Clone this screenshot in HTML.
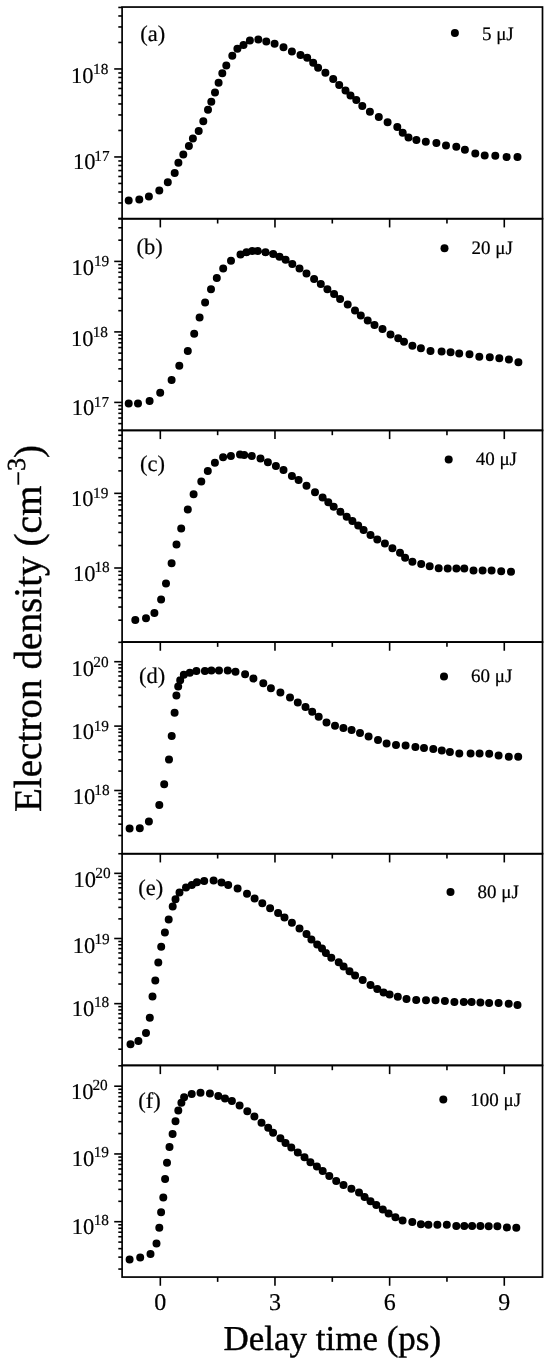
<!DOCTYPE html>
<html><head><meta charset="utf-8"><style>
html,body{margin:0;padding:0;background:#fff;overflow:hidden;}
svg{display:block;}
text{text-rendering:geometricPrecision;font-family:"Liberation Serif","Times New Roman",serif;fill:#000;stroke:#000;stroke-width:0.2px;}
.ax,.axy{stroke-width:0.4px;}
.t{stroke:#000;stroke-width:1.6;}
.fr{fill:none;stroke:#000;stroke-width:1.7;}
.yl{font-size:22.5px;}
.sup{font-size:15.3px;}
.xl{font-size:24px;}
.pl{font-size:22.5px;}
.lg{font-size:19px;}
.ax{font-size:35px;}
.axy{font-size:39.2px;}
.axs{font-size:26px;}
path,circle{fill:#000;}
</style></head><body>
<svg width="550" height="1361" viewBox="0 0 550 1361">
<line x1="118.30" y1="218.46" x2="122.10" y2="218.46" class="t"/>
<line x1="118.30" y1="202.96" x2="122.10" y2="202.96" class="t"/>
<line x1="118.30" y1="191.97" x2="122.10" y2="191.97" class="t"/>
<line x1="118.30" y1="183.44" x2="122.10" y2="183.44" class="t"/>
<line x1="118.30" y1="176.47" x2="122.10" y2="176.47" class="t"/>
<line x1="118.30" y1="170.58" x2="122.10" y2="170.58" class="t"/>
<line x1="118.30" y1="165.48" x2="122.10" y2="165.48" class="t"/>
<line x1="118.30" y1="160.98" x2="122.10" y2="160.98" class="t"/>
<line x1="114.20" y1="156.95" x2="122.10" y2="156.95" class="t"/>
<text x="84.25" y="169.10" class="yl" text-anchor="middle">10</text>
<text x="101.90" y="160.50" class="sup" text-anchor="middle">17</text>
<line x1="118.30" y1="130.46" x2="122.10" y2="130.46" class="t"/>
<line x1="118.30" y1="114.96" x2="122.10" y2="114.96" class="t"/>
<line x1="118.30" y1="103.97" x2="122.10" y2="103.97" class="t"/>
<line x1="118.30" y1="95.44" x2="122.10" y2="95.44" class="t"/>
<line x1="118.30" y1="88.47" x2="122.10" y2="88.47" class="t"/>
<line x1="118.30" y1="82.58" x2="122.10" y2="82.58" class="t"/>
<line x1="118.30" y1="77.48" x2="122.10" y2="77.48" class="t"/>
<line x1="118.30" y1="72.98" x2="122.10" y2="72.98" class="t"/>
<line x1="114.20" y1="68.95" x2="122.10" y2="68.95" class="t"/>
<text x="82.25" y="83.30" class="yl" text-anchor="middle">10</text>
<text x="100.65" y="74.43" class="sup" text-anchor="middle">18</text>
<line x1="118.30" y1="42.46" x2="122.10" y2="42.46" class="t"/>
<line x1="118.30" y1="26.96" x2="122.10" y2="26.96" class="t"/>
<line x1="118.30" y1="15.97" x2="122.10" y2="15.97" class="t"/>
<line x1="118.30" y1="7.44" x2="122.10" y2="7.44" class="t"/>
<line x1="160.32" y1="218.72" x2="160.32" y2="227.42" class="t"/>
<line x1="274.97" y1="218.72" x2="274.97" y2="227.42" class="t"/>
<line x1="389.63" y1="218.72" x2="389.63" y2="227.42" class="t"/>
<line x1="504.28" y1="218.72" x2="504.28" y2="227.42" class="t"/>
<line x1="217.65" y1="218.72" x2="217.65" y2="223.52" class="t"/>
<line x1="332.30" y1="218.72" x2="332.30" y2="223.52" class="t"/>
<line x1="446.95" y1="218.72" x2="446.95" y2="223.52" class="t"/>
<path d="M124.70 200.50a4.0 4.0 0 1 0 8.0 0a4.0 4.0 0 1 0 -8.0 0M135.30 199.50a4.0 4.0 0 1 0 8.0 0a4.0 4.0 0 1 0 -8.0 0M144.90 196.40a4.0 4.0 0 1 0 8.0 0a4.0 4.0 0 1 0 -8.0 0M155.30 190.40a4.0 4.0 0 1 0 8.0 0a4.0 4.0 0 1 0 -8.0 0M163.80 182.20a4.0 4.0 0 1 0 8.0 0a4.0 4.0 0 1 0 -8.0 0M170.70 173.10a4.0 4.0 0 1 0 8.0 0a4.0 4.0 0 1 0 -8.0 0M174.40 162.70a4.0 4.0 0 1 0 8.0 0a4.0 4.0 0 1 0 -8.0 0M179.30 154.50a4.0 4.0 0 1 0 8.0 0a4.0 4.0 0 1 0 -8.0 0M184.90 146.00a4.0 4.0 0 1 0 8.0 0a4.0 4.0 0 1 0 -8.0 0M188.90 138.50a4.0 4.0 0 1 0 8.0 0a4.0 4.0 0 1 0 -8.0 0M194.70 130.90a4.0 4.0 0 1 0 8.0 0a4.0 4.0 0 1 0 -8.0 0M199.30 121.20a4.0 4.0 0 1 0 8.0 0a4.0 4.0 0 1 0 -8.0 0M204.00 109.80a4.0 4.0 0 1 0 8.0 0a4.0 4.0 0 1 0 -8.0 0M207.30 101.80a4.0 4.0 0 1 0 8.0 0a4.0 4.0 0 1 0 -8.0 0M211.00 92.40a4.0 4.0 0 1 0 8.0 0a4.0 4.0 0 1 0 -8.0 0M214.60 82.70a4.0 4.0 0 1 0 8.0 0a4.0 4.0 0 1 0 -8.0 0M218.30 73.30a4.0 4.0 0 1 0 8.0 0a4.0 4.0 0 1 0 -8.0 0M222.30 65.50a4.0 4.0 0 1 0 8.0 0a4.0 4.0 0 1 0 -8.0 0M228.30 55.80a4.0 4.0 0 1 0 8.0 0a4.0 4.0 0 1 0 -8.0 0M233.40 48.70a4.0 4.0 0 1 0 8.0 0a4.0 4.0 0 1 0 -8.0 0M239.50 45.10a4.0 4.0 0 1 0 8.0 0a4.0 4.0 0 1 0 -8.0 0M245.90 40.50a4.0 4.0 0 1 0 8.0 0a4.0 4.0 0 1 0 -8.0 0M254.30 39.60a4.0 4.0 0 1 0 8.0 0a4.0 4.0 0 1 0 -8.0 0M262.30 41.50a4.0 4.0 0 1 0 8.0 0a4.0 4.0 0 1 0 -8.0 0M270.60 43.80a4.0 4.0 0 1 0 8.0 0a4.0 4.0 0 1 0 -8.0 0M279.50 47.30a4.0 4.0 0 1 0 8.0 0a4.0 4.0 0 1 0 -8.0 0M287.90 51.60a4.0 4.0 0 1 0 8.0 0a4.0 4.0 0 1 0 -8.0 0M296.50 55.00a4.0 4.0 0 1 0 8.0 0a4.0 4.0 0 1 0 -8.0 0M303.20 57.70a4.0 4.0 0 1 0 8.0 0a4.0 4.0 0 1 0 -8.0 0M309.20 62.80a4.0 4.0 0 1 0 8.0 0a4.0 4.0 0 1 0 -8.0 0M314.10 67.70a4.0 4.0 0 1 0 8.0 0a4.0 4.0 0 1 0 -8.0 0M321.40 72.80a4.0 4.0 0 1 0 8.0 0a4.0 4.0 0 1 0 -8.0 0M329.20 79.00a4.0 4.0 0 1 0 8.0 0a4.0 4.0 0 1 0 -8.0 0M335.20 85.00a4.0 4.0 0 1 0 8.0 0a4.0 4.0 0 1 0 -8.0 0M341.50 90.50a4.0 4.0 0 1 0 8.0 0a4.0 4.0 0 1 0 -8.0 0M346.50 95.50a4.0 4.0 0 1 0 8.0 0a4.0 4.0 0 1 0 -8.0 0M352.30 100.10a4.0 4.0 0 1 0 8.0 0a4.0 4.0 0 1 0 -8.0 0M358.30 105.90a4.0 4.0 0 1 0 8.0 0a4.0 4.0 0 1 0 -8.0 0M365.90 111.70a4.0 4.0 0 1 0 8.0 0a4.0 4.0 0 1 0 -8.0 0M374.80 117.00a4.0 4.0 0 1 0 8.0 0a4.0 4.0 0 1 0 -8.0 0M383.60 122.20a4.0 4.0 0 1 0 8.0 0a4.0 4.0 0 1 0 -8.0 0M393.30 126.90a4.0 4.0 0 1 0 8.0 0a4.0 4.0 0 1 0 -8.0 0M398.70 132.70a4.0 4.0 0 1 0 8.0 0a4.0 4.0 0 1 0 -8.0 0M404.50 137.60a4.0 4.0 0 1 0 8.0 0a4.0 4.0 0 1 0 -8.0 0M412.40 140.00a4.0 4.0 0 1 0 8.0 0a4.0 4.0 0 1 0 -8.0 0M421.80 141.80a4.0 4.0 0 1 0 8.0 0a4.0 4.0 0 1 0 -8.0 0M432.40 143.10a4.0 4.0 0 1 0 8.0 0a4.0 4.0 0 1 0 -8.0 0M442.00 145.50a4.0 4.0 0 1 0 8.0 0a4.0 4.0 0 1 0 -8.0 0M452.30 146.70a4.0 4.0 0 1 0 8.0 0a4.0 4.0 0 1 0 -8.0 0M460.90 149.80a4.0 4.0 0 1 0 8.0 0a4.0 4.0 0 1 0 -8.0 0M471.30 153.60a4.0 4.0 0 1 0 8.0 0a4.0 4.0 0 1 0 -8.0 0M480.70 155.50a4.0 4.0 0 1 0 8.0 0a4.0 4.0 0 1 0 -8.0 0M491.30 155.80a4.0 4.0 0 1 0 8.0 0a4.0 4.0 0 1 0 -8.0 0M502.60 156.90a4.0 4.0 0 1 0 8.0 0a4.0 4.0 0 1 0 -8.0 0M513.50 156.90a4.0 4.0 0 1 0 8.0 0a4.0 4.0 0 1 0 -8.0 0"/>
<text x="140.2" y="40.65" class="pl">(a)</text>
<circle cx="454.9" cy="33.1" r="4.0"/>
<text x="481.90" y="39.50" class="lg">5 μJ</text>
<line x1="118.30" y1="430.45" x2="122.10" y2="430.45" class="t"/>
<line x1="118.30" y1="423.62" x2="122.10" y2="423.62" class="t"/>
<line x1="118.30" y1="418.04" x2="122.10" y2="418.04" class="t"/>
<line x1="118.30" y1="413.32" x2="122.10" y2="413.32" class="t"/>
<line x1="118.30" y1="409.23" x2="122.10" y2="409.23" class="t"/>
<line x1="118.30" y1="405.63" x2="122.10" y2="405.63" class="t"/>
<line x1="114.20" y1="402.40" x2="122.10" y2="402.40" class="t"/>
<text x="82.95" y="415.20" class="yl" text-anchor="middle">10</text>
<text x="101.40" y="406.60" class="sup" text-anchor="middle">17</text>
<line x1="118.30" y1="381.18" x2="122.10" y2="381.18" class="t"/>
<line x1="118.30" y1="368.76" x2="122.10" y2="368.76" class="t"/>
<line x1="118.30" y1="359.95" x2="122.10" y2="359.95" class="t"/>
<line x1="118.30" y1="353.12" x2="122.10" y2="353.12" class="t"/>
<line x1="118.30" y1="347.54" x2="122.10" y2="347.54" class="t"/>
<line x1="118.30" y1="342.82" x2="122.10" y2="342.82" class="t"/>
<line x1="118.30" y1="338.73" x2="122.10" y2="338.73" class="t"/>
<line x1="118.30" y1="335.13" x2="122.10" y2="335.13" class="t"/>
<line x1="114.20" y1="331.90" x2="122.10" y2="331.90" class="t"/>
<text x="82.25" y="345.90" class="yl" text-anchor="middle">10</text>
<text x="100.30" y="337.03" class="sup" text-anchor="middle">18</text>
<line x1="118.30" y1="310.68" x2="122.10" y2="310.68" class="t"/>
<line x1="118.30" y1="298.26" x2="122.10" y2="298.26" class="t"/>
<line x1="118.30" y1="289.45" x2="122.10" y2="289.45" class="t"/>
<line x1="118.30" y1="282.62" x2="122.10" y2="282.62" class="t"/>
<line x1="118.30" y1="277.04" x2="122.10" y2="277.04" class="t"/>
<line x1="118.30" y1="272.32" x2="122.10" y2="272.32" class="t"/>
<line x1="118.30" y1="268.23" x2="122.10" y2="268.23" class="t"/>
<line x1="118.30" y1="264.63" x2="122.10" y2="264.63" class="t"/>
<line x1="114.20" y1="261.40" x2="122.10" y2="261.40" class="t"/>
<text x="82.80" y="275.30" class="yl" text-anchor="middle">10</text>
<text x="101.55" y="266.43" class="sup" text-anchor="middle">19</text>
<line x1="118.30" y1="240.18" x2="122.10" y2="240.18" class="t"/>
<line x1="118.30" y1="227.76" x2="122.10" y2="227.76" class="t"/>
<line x1="118.30" y1="218.95" x2="122.10" y2="218.95" class="t"/>
<line x1="160.32" y1="430.39" x2="160.32" y2="439.09" class="t"/>
<line x1="274.97" y1="430.39" x2="274.97" y2="439.09" class="t"/>
<line x1="389.63" y1="430.39" x2="389.63" y2="439.09" class="t"/>
<line x1="504.28" y1="430.39" x2="504.28" y2="439.09" class="t"/>
<line x1="217.65" y1="430.39" x2="217.65" y2="435.19" class="t"/>
<line x1="332.30" y1="430.39" x2="332.30" y2="435.19" class="t"/>
<line x1="446.95" y1="430.39" x2="446.95" y2="435.19" class="t"/>
<path d="M124.70 403.60a4.0 4.0 0 1 0 8.0 0a4.0 4.0 0 1 0 -8.0 0M134.00 403.60a4.0 4.0 0 1 0 8.0 0a4.0 4.0 0 1 0 -8.0 0M145.60 400.90a4.0 4.0 0 1 0 8.0 0a4.0 4.0 0 1 0 -8.0 0M156.20 392.70a4.0 4.0 0 1 0 8.0 0a4.0 4.0 0 1 0 -8.0 0M167.60 380.00a4.0 4.0 0 1 0 8.0 0a4.0 4.0 0 1 0 -8.0 0M175.30 365.80a4.0 4.0 0 1 0 8.0 0a4.0 4.0 0 1 0 -8.0 0M183.80 350.90a4.0 4.0 0 1 0 8.0 0a4.0 4.0 0 1 0 -8.0 0M190.20 333.80a4.0 4.0 0 1 0 8.0 0a4.0 4.0 0 1 0 -8.0 0M195.60 317.60a4.0 4.0 0 1 0 8.0 0a4.0 4.0 0 1 0 -8.0 0M201.10 302.40a4.0 4.0 0 1 0 8.0 0a4.0 4.0 0 1 0 -8.0 0M207.00 289.20a4.0 4.0 0 1 0 8.0 0a4.0 4.0 0 1 0 -8.0 0M212.80 278.10a4.0 4.0 0 1 0 8.0 0a4.0 4.0 0 1 0 -8.0 0M219.20 268.60a4.0 4.0 0 1 0 8.0 0a4.0 4.0 0 1 0 -8.0 0M227.00 260.80a4.0 4.0 0 1 0 8.0 0a4.0 4.0 0 1 0 -8.0 0M236.50 254.50a4.0 4.0 0 1 0 8.0 0a4.0 4.0 0 1 0 -8.0 0M242.50 252.30a4.0 4.0 0 1 0 8.0 0a4.0 4.0 0 1 0 -8.0 0M248.30 251.00a4.0 4.0 0 1 0 8.0 0a4.0 4.0 0 1 0 -8.0 0M253.70 251.00a4.0 4.0 0 1 0 8.0 0a4.0 4.0 0 1 0 -8.0 0M261.50 252.30a4.0 4.0 0 1 0 8.0 0a4.0 4.0 0 1 0 -8.0 0M269.20 254.10a4.0 4.0 0 1 0 8.0 0a4.0 4.0 0 1 0 -8.0 0M275.50 256.80a4.0 4.0 0 1 0 8.0 0a4.0 4.0 0 1 0 -8.0 0M281.60 259.70a4.0 4.0 0 1 0 8.0 0a4.0 4.0 0 1 0 -8.0 0M288.30 263.90a4.0 4.0 0 1 0 8.0 0a4.0 4.0 0 1 0 -8.0 0M295.50 268.60a4.0 4.0 0 1 0 8.0 0a4.0 4.0 0 1 0 -8.0 0M302.50 273.50a4.0 4.0 0 1 0 8.0 0a4.0 4.0 0 1 0 -8.0 0M310.10 279.00a4.0 4.0 0 1 0 8.0 0a4.0 4.0 0 1 0 -8.0 0M316.80 284.10a4.0 4.0 0 1 0 8.0 0a4.0 4.0 0 1 0 -8.0 0M323.40 289.20a4.0 4.0 0 1 0 8.0 0a4.0 4.0 0 1 0 -8.0 0M330.10 294.10a4.0 4.0 0 1 0 8.0 0a4.0 4.0 0 1 0 -8.0 0M336.10 299.00a4.0 4.0 0 1 0 8.0 0a4.0 4.0 0 1 0 -8.0 0M343.70 304.60a4.0 4.0 0 1 0 8.0 0a4.0 4.0 0 1 0 -8.0 0M351.00 310.50a4.0 4.0 0 1 0 8.0 0a4.0 4.0 0 1 0 -8.0 0M356.80 315.50a4.0 4.0 0 1 0 8.0 0a4.0 4.0 0 1 0 -8.0 0M363.70 320.60a4.0 4.0 0 1 0 8.0 0a4.0 4.0 0 1 0 -8.0 0M370.50 325.00a4.0 4.0 0 1 0 8.0 0a4.0 4.0 0 1 0 -8.0 0M378.50 329.10a4.0 4.0 0 1 0 8.0 0a4.0 4.0 0 1 0 -8.0 0M386.50 334.50a4.0 4.0 0 1 0 8.0 0a4.0 4.0 0 1 0 -8.0 0M394.20 338.20a4.0 4.0 0 1 0 8.0 0a4.0 4.0 0 1 0 -8.0 0M400.00 341.80a4.0 4.0 0 1 0 8.0 0a4.0 4.0 0 1 0 -8.0 0M408.40 345.80a4.0 4.0 0 1 0 8.0 0a4.0 4.0 0 1 0 -8.0 0M416.90 348.20a4.0 4.0 0 1 0 8.0 0a4.0 4.0 0 1 0 -8.0 0M426.50 350.90a4.0 4.0 0 1 0 8.0 0a4.0 4.0 0 1 0 -8.0 0M437.60 351.50a4.0 4.0 0 1 0 8.0 0a4.0 4.0 0 1 0 -8.0 0M446.60 352.20a4.0 4.0 0 1 0 8.0 0a4.0 4.0 0 1 0 -8.0 0M455.20 353.60a4.0 4.0 0 1 0 8.0 0a4.0 4.0 0 1 0 -8.0 0M465.50 354.30a4.0 4.0 0 1 0 8.0 0a4.0 4.0 0 1 0 -8.0 0M475.30 356.70a4.0 4.0 0 1 0 8.0 0a4.0 4.0 0 1 0 -8.0 0M485.80 357.30a4.0 4.0 0 1 0 8.0 0a4.0 4.0 0 1 0 -8.0 0M495.30 358.20a4.0 4.0 0 1 0 8.0 0a4.0 4.0 0 1 0 -8.0 0M504.90 359.60a4.0 4.0 0 1 0 8.0 0a4.0 4.0 0 1 0 -8.0 0M514.40 362.20a4.0 4.0 0 1 0 8.0 0a4.0 4.0 0 1 0 -8.0 0"/>
<text x="136.4" y="254.3" class="pl">(b)</text>
<circle cx="444.5" cy="248.2" r="4.0"/>
<text x="471.50" y="254.40" class="lg">20 μJ</text>
<line x1="118.30" y1="620.18" x2="122.10" y2="620.18" class="t"/>
<line x1="118.30" y1="607.03" x2="122.10" y2="607.03" class="t"/>
<line x1="118.30" y1="597.71" x2="122.10" y2="597.71" class="t"/>
<line x1="118.30" y1="590.47" x2="122.10" y2="590.47" class="t"/>
<line x1="118.30" y1="584.56" x2="122.10" y2="584.56" class="t"/>
<line x1="118.30" y1="579.56" x2="122.10" y2="579.56" class="t"/>
<line x1="118.30" y1="575.23" x2="122.10" y2="575.23" class="t"/>
<line x1="118.30" y1="571.42" x2="122.10" y2="571.42" class="t"/>
<line x1="114.20" y1="568.00" x2="122.10" y2="568.00" class="t"/>
<text x="84.25" y="581.10" class="yl" text-anchor="middle">10</text>
<text x="102.10" y="572.23" class="sup" text-anchor="middle">18</text>
<line x1="118.30" y1="545.53" x2="122.10" y2="545.53" class="t"/>
<line x1="118.30" y1="532.38" x2="122.10" y2="532.38" class="t"/>
<line x1="118.30" y1="523.06" x2="122.10" y2="523.06" class="t"/>
<line x1="118.30" y1="515.82" x2="122.10" y2="515.82" class="t"/>
<line x1="118.30" y1="509.91" x2="122.10" y2="509.91" class="t"/>
<line x1="118.30" y1="504.91" x2="122.10" y2="504.91" class="t"/>
<line x1="118.30" y1="500.58" x2="122.10" y2="500.58" class="t"/>
<line x1="118.30" y1="496.77" x2="122.10" y2="496.77" class="t"/>
<line x1="114.20" y1="493.35" x2="122.10" y2="493.35" class="t"/>
<text x="82.25" y="506.40" class="yl" text-anchor="middle">10</text>
<text x="100.65" y="497.53" class="sup" text-anchor="middle">19</text>
<line x1="118.30" y1="470.88" x2="122.10" y2="470.88" class="t"/>
<line x1="118.30" y1="457.73" x2="122.10" y2="457.73" class="t"/>
<line x1="118.30" y1="448.41" x2="122.10" y2="448.41" class="t"/>
<line x1="118.30" y1="441.17" x2="122.10" y2="441.17" class="t"/>
<line x1="118.30" y1="435.26" x2="122.10" y2="435.26" class="t"/>
<line x1="118.30" y1="430.26" x2="122.10" y2="430.26" class="t"/>
<line x1="160.32" y1="642.06" x2="160.32" y2="650.76" class="t"/>
<line x1="274.97" y1="642.06" x2="274.97" y2="650.76" class="t"/>
<line x1="389.63" y1="642.06" x2="389.63" y2="650.76" class="t"/>
<line x1="504.28" y1="642.06" x2="504.28" y2="650.76" class="t"/>
<line x1="217.65" y1="642.06" x2="217.65" y2="646.86" class="t"/>
<line x1="332.30" y1="642.06" x2="332.30" y2="646.86" class="t"/>
<line x1="446.95" y1="642.06" x2="446.95" y2="646.86" class="t"/>
<path d="M131.30 620.00a4.0 4.0 0 1 0 8.0 0a4.0 4.0 0 1 0 -8.0 0M142.00 618.20a4.0 4.0 0 1 0 8.0 0a4.0 4.0 0 1 0 -8.0 0M150.40 613.10a4.0 4.0 0 1 0 8.0 0a4.0 4.0 0 1 0 -8.0 0M157.10 599.60a4.0 4.0 0 1 0 8.0 0a4.0 4.0 0 1 0 -8.0 0M162.00 583.60a4.0 4.0 0 1 0 8.0 0a4.0 4.0 0 1 0 -8.0 0M167.60 563.30a4.0 4.0 0 1 0 8.0 0a4.0 4.0 0 1 0 -8.0 0M172.50 544.50a4.0 4.0 0 1 0 8.0 0a4.0 4.0 0 1 0 -8.0 0M177.20 528.50a4.0 4.0 0 1 0 8.0 0a4.0 4.0 0 1 0 -8.0 0M183.80 509.60a4.0 4.0 0 1 0 8.0 0a4.0 4.0 0 1 0 -8.0 0M189.60 494.20a4.0 4.0 0 1 0 8.0 0a4.0 4.0 0 1 0 -8.0 0M197.30 481.50a4.0 4.0 0 1 0 8.0 0a4.0 4.0 0 1 0 -8.0 0M203.80 470.90a4.0 4.0 0 1 0 8.0 0a4.0 4.0 0 1 0 -8.0 0M210.90 462.70a4.0 4.0 0 1 0 8.0 0a4.0 4.0 0 1 0 -8.0 0M219.10 457.30a4.0 4.0 0 1 0 8.0 0a4.0 4.0 0 1 0 -8.0 0M226.90 456.00a4.0 4.0 0 1 0 8.0 0a4.0 4.0 0 1 0 -8.0 0M236.00 454.50a4.0 4.0 0 1 0 8.0 0a4.0 4.0 0 1 0 -8.0 0M240.20 454.90a4.0 4.0 0 1 0 8.0 0a4.0 4.0 0 1 0 -8.0 0M247.80 456.00a4.0 4.0 0 1 0 8.0 0a4.0 4.0 0 1 0 -8.0 0M256.50 458.60a4.0 4.0 0 1 0 8.0 0a4.0 4.0 0 1 0 -8.0 0M263.90 462.20a4.0 4.0 0 1 0 8.0 0a4.0 4.0 0 1 0 -8.0 0M271.90 466.00a4.0 4.0 0 1 0 8.0 0a4.0 4.0 0 1 0 -8.0 0M279.50 470.00a4.0 4.0 0 1 0 8.0 0a4.0 4.0 0 1 0 -8.0 0M287.90 476.00a4.0 4.0 0 1 0 8.0 0a4.0 4.0 0 1 0 -8.0 0M294.60 480.00a4.0 4.0 0 1 0 8.0 0a4.0 4.0 0 1 0 -8.0 0M302.50 485.80a4.0 4.0 0 1 0 8.0 0a4.0 4.0 0 1 0 -8.0 0M311.00 492.20a4.0 4.0 0 1 0 8.0 0a4.0 4.0 0 1 0 -8.0 0M318.60 497.60a4.0 4.0 0 1 0 8.0 0a4.0 4.0 0 1 0 -8.0 0M324.30 502.20a4.0 4.0 0 1 0 8.0 0a4.0 4.0 0 1 0 -8.0 0M329.70 506.70a4.0 4.0 0 1 0 8.0 0a4.0 4.0 0 1 0 -8.0 0M336.40 511.80a4.0 4.0 0 1 0 8.0 0a4.0 4.0 0 1 0 -8.0 0M342.70 516.70a4.0 4.0 0 1 0 8.0 0a4.0 4.0 0 1 0 -8.0 0M348.40 521.00a4.0 4.0 0 1 0 8.0 0a4.0 4.0 0 1 0 -8.0 0M354.20 525.50a4.0 4.0 0 1 0 8.0 0a4.0 4.0 0 1 0 -8.0 0M359.60 530.00a4.0 4.0 0 1 0 8.0 0a4.0 4.0 0 1 0 -8.0 0M366.50 534.90a4.0 4.0 0 1 0 8.0 0a4.0 4.0 0 1 0 -8.0 0M373.30 539.50a4.0 4.0 0 1 0 8.0 0a4.0 4.0 0 1 0 -8.0 0M380.90 543.60a4.0 4.0 0 1 0 8.0 0a4.0 4.0 0 1 0 -8.0 0M388.40 548.20a4.0 4.0 0 1 0 8.0 0a4.0 4.0 0 1 0 -8.0 0M396.00 552.70a4.0 4.0 0 1 0 8.0 0a4.0 4.0 0 1 0 -8.0 0M401.10 557.80a4.0 4.0 0 1 0 8.0 0a4.0 4.0 0 1 0 -8.0 0M408.40 561.80a4.0 4.0 0 1 0 8.0 0a4.0 4.0 0 1 0 -8.0 0M417.20 564.00a4.0 4.0 0 1 0 8.0 0a4.0 4.0 0 1 0 -8.0 0M425.70 566.30a4.0 4.0 0 1 0 8.0 0a4.0 4.0 0 1 0 -8.0 0M434.70 568.30a4.0 4.0 0 1 0 8.0 0a4.0 4.0 0 1 0 -8.0 0M443.70 568.40a4.0 4.0 0 1 0 8.0 0a4.0 4.0 0 1 0 -8.0 0M452.40 568.40a4.0 4.0 0 1 0 8.0 0a4.0 4.0 0 1 0 -8.0 0M460.30 568.40a4.0 4.0 0 1 0 8.0 0a4.0 4.0 0 1 0 -8.0 0M469.50 570.60a4.0 4.0 0 1 0 8.0 0a4.0 4.0 0 1 0 -8.0 0M478.60 570.60a4.0 4.0 0 1 0 8.0 0a4.0 4.0 0 1 0 -8.0 0M487.60 570.60a4.0 4.0 0 1 0 8.0 0a4.0 4.0 0 1 0 -8.0 0M497.20 571.30a4.0 4.0 0 1 0 8.0 0a4.0 4.0 0 1 0 -8.0 0M507.00 571.70a4.0 4.0 0 1 0 8.0 0a4.0 4.0 0 1 0 -8.0 0"/>
<text x="139.97" y="471.45" class="pl">(c)</text>
<circle cx="448.7" cy="459.5" r="4.0"/>
<text x="475.70" y="464.90" class="lg">40 μJ</text>
<line x1="118.30" y1="835.51" x2="122.10" y2="835.51" class="t"/>
<line x1="118.30" y1="824.17" x2="122.10" y2="824.17" class="t"/>
<line x1="118.30" y1="816.13" x2="122.10" y2="816.13" class="t"/>
<line x1="118.30" y1="809.89" x2="122.10" y2="809.89" class="t"/>
<line x1="118.30" y1="804.79" x2="122.10" y2="804.79" class="t"/>
<line x1="118.30" y1="800.48" x2="122.10" y2="800.48" class="t"/>
<line x1="118.30" y1="796.74" x2="122.10" y2="796.74" class="t"/>
<line x1="118.30" y1="793.45" x2="122.10" y2="793.45" class="t"/>
<line x1="114.20" y1="790.50" x2="122.10" y2="790.50" class="t"/>
<text x="84.10" y="803.70" class="yl" text-anchor="middle">10</text>
<text x="101.90" y="794.83" class="sup" text-anchor="middle">18</text>
<line x1="118.30" y1="771.11" x2="122.10" y2="771.11" class="t"/>
<line x1="118.30" y1="759.77" x2="122.10" y2="759.77" class="t"/>
<line x1="118.30" y1="751.73" x2="122.10" y2="751.73" class="t"/>
<line x1="118.30" y1="745.49" x2="122.10" y2="745.49" class="t"/>
<line x1="118.30" y1="740.39" x2="122.10" y2="740.39" class="t"/>
<line x1="118.30" y1="736.08" x2="122.10" y2="736.08" class="t"/>
<line x1="118.30" y1="732.34" x2="122.10" y2="732.34" class="t"/>
<line x1="118.30" y1="729.05" x2="122.10" y2="729.05" class="t"/>
<line x1="114.20" y1="726.10" x2="122.10" y2="726.10" class="t"/>
<text x="82.80" y="739.40" class="yl" text-anchor="middle">10</text>
<text x="101.35" y="730.53" class="sup" text-anchor="middle">19</text>
<line x1="118.30" y1="706.71" x2="122.10" y2="706.71" class="t"/>
<line x1="118.30" y1="695.37" x2="122.10" y2="695.37" class="t"/>
<line x1="118.30" y1="687.33" x2="122.10" y2="687.33" class="t"/>
<line x1="118.30" y1="681.09" x2="122.10" y2="681.09" class="t"/>
<line x1="118.30" y1="675.99" x2="122.10" y2="675.99" class="t"/>
<line x1="118.30" y1="671.68" x2="122.10" y2="671.68" class="t"/>
<line x1="118.30" y1="667.94" x2="122.10" y2="667.94" class="t"/>
<line x1="118.30" y1="664.65" x2="122.10" y2="664.65" class="t"/>
<line x1="114.20" y1="661.70" x2="122.10" y2="661.70" class="t"/>
<text x="82.80" y="675.70" class="yl" text-anchor="middle">10</text>
<text x="101.00" y="666.83" class="sup" text-anchor="middle">20</text>
<line x1="118.30" y1="642.31" x2="122.10" y2="642.31" class="t"/>
<line x1="160.32" y1="853.73" x2="160.32" y2="862.43" class="t"/>
<line x1="274.97" y1="853.73" x2="274.97" y2="862.43" class="t"/>
<line x1="389.63" y1="853.73" x2="389.63" y2="862.43" class="t"/>
<line x1="504.28" y1="853.73" x2="504.28" y2="862.43" class="t"/>
<line x1="217.65" y1="853.73" x2="217.65" y2="858.53" class="t"/>
<line x1="332.30" y1="853.73" x2="332.30" y2="858.53" class="t"/>
<line x1="446.95" y1="853.73" x2="446.95" y2="858.53" class="t"/>
<path d="M125.60 828.50a4.0 4.0 0 1 0 8.0 0a4.0 4.0 0 1 0 -8.0 0M135.80 828.20a4.0 4.0 0 1 0 8.0 0a4.0 4.0 0 1 0 -8.0 0M144.90 821.50a4.0 4.0 0 1 0 8.0 0a4.0 4.0 0 1 0 -8.0 0M155.30 805.10a4.0 4.0 0 1 0 8.0 0a4.0 4.0 0 1 0 -8.0 0M160.20 784.20a4.0 4.0 0 1 0 8.0 0a4.0 4.0 0 1 0 -8.0 0M165.00 759.50a4.0 4.0 0 1 0 8.0 0a4.0 4.0 0 1 0 -8.0 0M167.70 735.90a4.0 4.0 0 1 0 8.0 0a4.0 4.0 0 1 0 -8.0 0M170.60 712.80a4.0 4.0 0 1 0 8.0 0a4.0 4.0 0 1 0 -8.0 0M172.40 695.50a4.0 4.0 0 1 0 8.0 0a4.0 4.0 0 1 0 -8.0 0M174.20 686.40a4.0 4.0 0 1 0 8.0 0a4.0 4.0 0 1 0 -8.0 0M176.20 680.30a4.0 4.0 0 1 0 8.0 0a4.0 4.0 0 1 0 -8.0 0M179.80 674.80a4.0 4.0 0 1 0 8.0 0a4.0 4.0 0 1 0 -8.0 0M185.80 672.70a4.0 4.0 0 1 0 8.0 0a4.0 4.0 0 1 0 -8.0 0M192.40 671.00a4.0 4.0 0 1 0 8.0 0a4.0 4.0 0 1 0 -8.0 0M200.90 671.00a4.0 4.0 0 1 0 8.0 0a4.0 4.0 0 1 0 -8.0 0M207.40 670.50a4.0 4.0 0 1 0 8.0 0a4.0 4.0 0 1 0 -8.0 0M215.00 670.50a4.0 4.0 0 1 0 8.0 0a4.0 4.0 0 1 0 -8.0 0M223.70 670.50a4.0 4.0 0 1 0 8.0 0a4.0 4.0 0 1 0 -8.0 0M231.50 671.70a4.0 4.0 0 1 0 8.0 0a4.0 4.0 0 1 0 -8.0 0M241.10 674.30a4.0 4.0 0 1 0 8.0 0a4.0 4.0 0 1 0 -8.0 0M249.40 678.60a4.0 4.0 0 1 0 8.0 0a4.0 4.0 0 1 0 -8.0 0M259.30 683.30a4.0 4.0 0 1 0 8.0 0a4.0 4.0 0 1 0 -8.0 0M266.90 688.20a4.0 4.0 0 1 0 8.0 0a4.0 4.0 0 1 0 -8.0 0M276.40 692.40a4.0 4.0 0 1 0 8.0 0a4.0 4.0 0 1 0 -8.0 0M286.00 697.60a4.0 4.0 0 1 0 8.0 0a4.0 4.0 0 1 0 -8.0 0M293.80 702.40a4.0 4.0 0 1 0 8.0 0a4.0 4.0 0 1 0 -8.0 0M301.50 706.90a4.0 4.0 0 1 0 8.0 0a4.0 4.0 0 1 0 -8.0 0M308.20 711.80a4.0 4.0 0 1 0 8.0 0a4.0 4.0 0 1 0 -8.0 0M314.70 716.70a4.0 4.0 0 1 0 8.0 0a4.0 4.0 0 1 0 -8.0 0M322.50 722.40a4.0 4.0 0 1 0 8.0 0a4.0 4.0 0 1 0 -8.0 0M331.00 725.70a4.0 4.0 0 1 0 8.0 0a4.0 4.0 0 1 0 -8.0 0M339.40 728.00a4.0 4.0 0 1 0 8.0 0a4.0 4.0 0 1 0 -8.0 0M347.60 730.00a4.0 4.0 0 1 0 8.0 0a4.0 4.0 0 1 0 -8.0 0M356.00 733.00a4.0 4.0 0 1 0 8.0 0a4.0 4.0 0 1 0 -8.0 0M364.60 736.60a4.0 4.0 0 1 0 8.0 0a4.0 4.0 0 1 0 -8.0 0M374.00 740.00a4.0 4.0 0 1 0 8.0 0a4.0 4.0 0 1 0 -8.0 0M382.60 743.60a4.0 4.0 0 1 0 8.0 0a4.0 4.0 0 1 0 -8.0 0M392.00 745.00a4.0 4.0 0 1 0 8.0 0a4.0 4.0 0 1 0 -8.0 0M401.60 745.60a4.0 4.0 0 1 0 8.0 0a4.0 4.0 0 1 0 -8.0 0M411.40 747.00a4.0 4.0 0 1 0 8.0 0a4.0 4.0 0 1 0 -8.0 0M420.00 748.00a4.0 4.0 0 1 0 8.0 0a4.0 4.0 0 1 0 -8.0 0M429.30 748.90a4.0 4.0 0 1 0 8.0 0a4.0 4.0 0 1 0 -8.0 0M437.80 750.50a4.0 4.0 0 1 0 8.0 0a4.0 4.0 0 1 0 -8.0 0M445.90 752.10a4.0 4.0 0 1 0 8.0 0a4.0 4.0 0 1 0 -8.0 0M455.30 753.40a4.0 4.0 0 1 0 8.0 0a4.0 4.0 0 1 0 -8.0 0M466.60 753.40a4.0 4.0 0 1 0 8.0 0a4.0 4.0 0 1 0 -8.0 0M475.60 753.40a4.0 4.0 0 1 0 8.0 0a4.0 4.0 0 1 0 -8.0 0M485.20 753.80a4.0 4.0 0 1 0 8.0 0a4.0 4.0 0 1 0 -8.0 0M494.60 755.60a4.0 4.0 0 1 0 8.0 0a4.0 4.0 0 1 0 -8.0 0M504.80 756.70a4.0 4.0 0 1 0 8.0 0a4.0 4.0 0 1 0 -8.0 0M514.20 756.70a4.0 4.0 0 1 0 8.0 0a4.0 4.0 0 1 0 -8.0 0"/>
<text x="139.07" y="682.8" class="pl">(d)</text>
<circle cx="444.0" cy="676.5" r="4.0"/>
<text x="471.00" y="682.30" class="lg">60 μJ</text>
<line x1="118.30" y1="1049.19" x2="122.10" y2="1049.19" class="t"/>
<line x1="118.30" y1="1037.72" x2="122.10" y2="1037.72" class="t"/>
<line x1="118.30" y1="1029.58" x2="122.10" y2="1029.58" class="t"/>
<line x1="118.30" y1="1023.26" x2="122.10" y2="1023.26" class="t"/>
<line x1="118.30" y1="1018.10" x2="122.10" y2="1018.10" class="t"/>
<line x1="118.30" y1="1013.74" x2="122.10" y2="1013.74" class="t"/>
<line x1="118.30" y1="1009.96" x2="122.10" y2="1009.96" class="t"/>
<line x1="118.30" y1="1006.63" x2="122.10" y2="1006.63" class="t"/>
<line x1="114.20" y1="1003.65" x2="122.10" y2="1003.65" class="t"/>
<text x="82.95" y="1015.70" class="yl" text-anchor="middle">10</text>
<text x="101.55" y="1006.83" class="sup" text-anchor="middle">18</text>
<line x1="118.30" y1="984.04" x2="122.10" y2="984.04" class="t"/>
<line x1="118.30" y1="972.57" x2="122.10" y2="972.57" class="t"/>
<line x1="118.30" y1="964.43" x2="122.10" y2="964.43" class="t"/>
<line x1="118.30" y1="958.11" x2="122.10" y2="958.11" class="t"/>
<line x1="118.30" y1="952.95" x2="122.10" y2="952.95" class="t"/>
<line x1="118.30" y1="948.59" x2="122.10" y2="948.59" class="t"/>
<line x1="118.30" y1="944.81" x2="122.10" y2="944.81" class="t"/>
<line x1="118.30" y1="941.48" x2="122.10" y2="941.48" class="t"/>
<line x1="114.20" y1="938.50" x2="122.10" y2="938.50" class="t"/>
<text x="84.10" y="953.20" class="yl" text-anchor="middle">10</text>
<text x="102.05" y="944.33" class="sup" text-anchor="middle">19</text>
<line x1="118.30" y1="918.89" x2="122.10" y2="918.89" class="t"/>
<line x1="118.30" y1="907.42" x2="122.10" y2="907.42" class="t"/>
<line x1="118.30" y1="899.28" x2="122.10" y2="899.28" class="t"/>
<line x1="118.30" y1="892.96" x2="122.10" y2="892.96" class="t"/>
<line x1="118.30" y1="887.80" x2="122.10" y2="887.80" class="t"/>
<line x1="118.30" y1="883.44" x2="122.10" y2="883.44" class="t"/>
<line x1="118.30" y1="879.66" x2="122.10" y2="879.66" class="t"/>
<line x1="118.30" y1="876.33" x2="122.10" y2="876.33" class="t"/>
<line x1="114.20" y1="873.35" x2="122.10" y2="873.35" class="t"/>
<text x="84.80" y="886.80" class="yl" text-anchor="middle">10</text>
<text x="102.95" y="877.93" class="sup" text-anchor="middle">20</text>
<line x1="118.30" y1="853.74" x2="122.10" y2="853.74" class="t"/>
<line x1="160.32" y1="1065.40" x2="160.32" y2="1074.10" class="t"/>
<line x1="274.97" y1="1065.40" x2="274.97" y2="1074.10" class="t"/>
<line x1="389.63" y1="1065.40" x2="389.63" y2="1074.10" class="t"/>
<line x1="504.28" y1="1065.40" x2="504.28" y2="1074.10" class="t"/>
<line x1="217.65" y1="1065.40" x2="217.65" y2="1070.20" class="t"/>
<line x1="332.30" y1="1065.40" x2="332.30" y2="1070.20" class="t"/>
<line x1="446.95" y1="1065.40" x2="446.95" y2="1070.20" class="t"/>
<path d="M126.50 1044.20a4.0 4.0 0 1 0 8.0 0a4.0 4.0 0 1 0 -8.0 0M134.40 1040.90a4.0 4.0 0 1 0 8.0 0a4.0 4.0 0 1 0 -8.0 0M142.00 1033.10a4.0 4.0 0 1 0 8.0 0a4.0 4.0 0 1 0 -8.0 0M145.80 1017.80a4.0 4.0 0 1 0 8.0 0a4.0 4.0 0 1 0 -8.0 0M148.50 996.40a4.0 4.0 0 1 0 8.0 0a4.0 4.0 0 1 0 -8.0 0M151.30 980.40a4.0 4.0 0 1 0 8.0 0a4.0 4.0 0 1 0 -8.0 0M154.30 962.50a4.0 4.0 0 1 0 8.0 0a4.0 4.0 0 1 0 -8.0 0M157.20 946.80a4.0 4.0 0 1 0 8.0 0a4.0 4.0 0 1 0 -8.0 0M160.90 932.60a4.0 4.0 0 1 0 8.0 0a4.0 4.0 0 1 0 -8.0 0M164.70 919.50a4.0 4.0 0 1 0 8.0 0a4.0 4.0 0 1 0 -8.0 0M168.70 906.50a4.0 4.0 0 1 0 8.0 0a4.0 4.0 0 1 0 -8.0 0M171.50 899.20a4.0 4.0 0 1 0 8.0 0a4.0 4.0 0 1 0 -8.0 0M175.50 892.60a4.0 4.0 0 1 0 8.0 0a4.0 4.0 0 1 0 -8.0 0M182.00 887.40a4.0 4.0 0 1 0 8.0 0a4.0 4.0 0 1 0 -8.0 0M187.80 885.00a4.0 4.0 0 1 0 8.0 0a4.0 4.0 0 1 0 -8.0 0M192.90 882.30a4.0 4.0 0 1 0 8.0 0a4.0 4.0 0 1 0 -8.0 0M200.20 881.00a4.0 4.0 0 1 0 8.0 0a4.0 4.0 0 1 0 -8.0 0M209.60 880.50a4.0 4.0 0 1 0 8.0 0a4.0 4.0 0 1 0 -8.0 0M217.50 882.60a4.0 4.0 0 1 0 8.0 0a4.0 4.0 0 1 0 -8.0 0M224.20 885.00a4.0 4.0 0 1 0 8.0 0a4.0 4.0 0 1 0 -8.0 0M233.60 888.60a4.0 4.0 0 1 0 8.0 0a4.0 4.0 0 1 0 -8.0 0M243.00 893.80a4.0 4.0 0 1 0 8.0 0a4.0 4.0 0 1 0 -8.0 0M250.60 898.50a4.0 4.0 0 1 0 8.0 0a4.0 4.0 0 1 0 -8.0 0M258.30 903.30a4.0 4.0 0 1 0 8.0 0a4.0 4.0 0 1 0 -8.0 0M266.10 908.20a4.0 4.0 0 1 0 8.0 0a4.0 4.0 0 1 0 -8.0 0M274.10 913.10a4.0 4.0 0 1 0 8.0 0a4.0 4.0 0 1 0 -8.0 0M280.50 917.60a4.0 4.0 0 1 0 8.0 0a4.0 4.0 0 1 0 -8.0 0M287.90 922.70a4.0 4.0 0 1 0 8.0 0a4.0 4.0 0 1 0 -8.0 0M295.50 928.50a4.0 4.0 0 1 0 8.0 0a4.0 4.0 0 1 0 -8.0 0M302.50 934.00a4.0 4.0 0 1 0 8.0 0a4.0 4.0 0 1 0 -8.0 0M307.40 939.60a4.0 4.0 0 1 0 8.0 0a4.0 4.0 0 1 0 -8.0 0M313.20 944.50a4.0 4.0 0 1 0 8.0 0a4.0 4.0 0 1 0 -8.0 0M318.00 948.50a4.0 4.0 0 1 0 8.0 0a4.0 4.0 0 1 0 -8.0 0M321.90 953.10a4.0 4.0 0 1 0 8.0 0a4.0 4.0 0 1 0 -8.0 0M327.30 957.80a4.0 4.0 0 1 0 8.0 0a4.0 4.0 0 1 0 -8.0 0M334.70 962.20a4.0 4.0 0 1 0 8.0 0a4.0 4.0 0 1 0 -8.0 0M339.60 966.40a4.0 4.0 0 1 0 8.0 0a4.0 4.0 0 1 0 -8.0 0M345.50 971.30a4.0 4.0 0 1 0 8.0 0a4.0 4.0 0 1 0 -8.0 0M351.10 975.50a4.0 4.0 0 1 0 8.0 0a4.0 4.0 0 1 0 -8.0 0M358.70 980.00a4.0 4.0 0 1 0 8.0 0a4.0 4.0 0 1 0 -8.0 0M366.50 985.10a4.0 4.0 0 1 0 8.0 0a4.0 4.0 0 1 0 -8.0 0M373.30 989.10a4.0 4.0 0 1 0 8.0 0a4.0 4.0 0 1 0 -8.0 0M379.60 992.40a4.0 4.0 0 1 0 8.0 0a4.0 4.0 0 1 0 -8.0 0M385.60 994.50a4.0 4.0 0 1 0 8.0 0a4.0 4.0 0 1 0 -8.0 0M393.80 996.70a4.0 4.0 0 1 0 8.0 0a4.0 4.0 0 1 0 -8.0 0M402.50 999.10a4.0 4.0 0 1 0 8.0 0a4.0 4.0 0 1 0 -8.0 0M412.20 1000.10a4.0 4.0 0 1 0 8.0 0a4.0 4.0 0 1 0 -8.0 0M422.00 1000.20a4.0 4.0 0 1 0 8.0 0a4.0 4.0 0 1 0 -8.0 0M431.50 1000.20a4.0 4.0 0 1 0 8.0 0a4.0 4.0 0 1 0 -8.0 0M440.90 1000.90a4.0 4.0 0 1 0 8.0 0a4.0 4.0 0 1 0 -8.0 0M450.40 1002.10a4.0 4.0 0 1 0 8.0 0a4.0 4.0 0 1 0 -8.0 0M459.80 1002.10a4.0 4.0 0 1 0 8.0 0a4.0 4.0 0 1 0 -8.0 0M467.60 1002.10a4.0 4.0 0 1 0 8.0 0a4.0 4.0 0 1 0 -8.0 0M476.40 1002.60a4.0 4.0 0 1 0 8.0 0a4.0 4.0 0 1 0 -8.0 0M485.10 1003.00a4.0 4.0 0 1 0 8.0 0a4.0 4.0 0 1 0 -8.0 0M494.60 1003.00a4.0 4.0 0 1 0 8.0 0a4.0 4.0 0 1 0 -8.0 0M504.70 1003.70a4.0 4.0 0 1 0 8.0 0a4.0 4.0 0 1 0 -8.0 0M513.50 1004.90a4.0 4.0 0 1 0 8.0 0a4.0 4.0 0 1 0 -8.0 0"/>
<text x="138.2" y="895.3" class="pl">(e)</text>
<circle cx="450.5" cy="892.1" r="4.0"/>
<text x="477.50" y="898.40" class="lg">80 μJ</text>
<line x1="118.30" y1="1269.06" x2="122.10" y2="1269.06" class="t"/>
<line x1="118.30" y1="1257.13" x2="122.10" y2="1257.13" class="t"/>
<line x1="118.30" y1="1248.66" x2="122.10" y2="1248.66" class="t"/>
<line x1="118.30" y1="1242.09" x2="122.10" y2="1242.09" class="t"/>
<line x1="118.30" y1="1236.73" x2="122.10" y2="1236.73" class="t"/>
<line x1="118.30" y1="1232.19" x2="122.10" y2="1232.19" class="t"/>
<line x1="118.30" y1="1228.27" x2="122.10" y2="1228.27" class="t"/>
<line x1="118.30" y1="1224.80" x2="122.10" y2="1224.80" class="t"/>
<line x1="114.20" y1="1221.70" x2="122.10" y2="1221.70" class="t"/>
<text x="82.95" y="1234.10" class="yl" text-anchor="middle">10</text>
<text x="101.35" y="1225.23" class="sup" text-anchor="middle">18</text>
<line x1="118.30" y1="1201.31" x2="122.10" y2="1201.31" class="t"/>
<line x1="118.30" y1="1189.38" x2="122.10" y2="1189.38" class="t"/>
<line x1="118.30" y1="1180.91" x2="122.10" y2="1180.91" class="t"/>
<line x1="118.30" y1="1174.34" x2="122.10" y2="1174.34" class="t"/>
<line x1="118.30" y1="1168.98" x2="122.10" y2="1168.98" class="t"/>
<line x1="118.30" y1="1164.44" x2="122.10" y2="1164.44" class="t"/>
<line x1="118.30" y1="1160.52" x2="122.10" y2="1160.52" class="t"/>
<line x1="118.30" y1="1157.05" x2="122.10" y2="1157.05" class="t"/>
<line x1="114.20" y1="1153.95" x2="122.10" y2="1153.95" class="t"/>
<text x="82.95" y="1166.30" class="yl" text-anchor="middle">10</text>
<text x="101.35" y="1157.43" class="sup" text-anchor="middle">19</text>
<line x1="118.30" y1="1133.56" x2="122.10" y2="1133.56" class="t"/>
<line x1="118.30" y1="1121.63" x2="122.10" y2="1121.63" class="t"/>
<line x1="118.30" y1="1113.16" x2="122.10" y2="1113.16" class="t"/>
<line x1="118.30" y1="1106.59" x2="122.10" y2="1106.59" class="t"/>
<line x1="118.30" y1="1101.23" x2="122.10" y2="1101.23" class="t"/>
<line x1="118.30" y1="1096.69" x2="122.10" y2="1096.69" class="t"/>
<line x1="118.30" y1="1092.77" x2="122.10" y2="1092.77" class="t"/>
<line x1="118.30" y1="1089.30" x2="122.10" y2="1089.30" class="t"/>
<line x1="114.20" y1="1086.20" x2="122.10" y2="1086.20" class="t"/>
<text x="82.25" y="1099.10" class="yl" text-anchor="middle">10</text>
<text x="100.05" y="1090.23" class="sup" text-anchor="middle">20</text>
<line x1="118.30" y1="1065.81" x2="122.10" y2="1065.81" class="t"/>
<line x1="160.32" y1="1277.07" x2="160.32" y2="1285.77" class="t"/>
<line x1="274.97" y1="1277.07" x2="274.97" y2="1285.77" class="t"/>
<line x1="389.63" y1="1277.07" x2="389.63" y2="1285.77" class="t"/>
<line x1="504.28" y1="1277.07" x2="504.28" y2="1285.77" class="t"/>
<line x1="217.65" y1="1277.07" x2="217.65" y2="1281.87" class="t"/>
<line x1="332.30" y1="1277.07" x2="332.30" y2="1281.87" class="t"/>
<line x1="446.95" y1="1277.07" x2="446.95" y2="1281.87" class="t"/>
<path d="M125.60 1259.50a4.0 4.0 0 1 0 8.0 0a4.0 4.0 0 1 0 -8.0 0M136.20 1257.60a4.0 4.0 0 1 0 8.0 0a4.0 4.0 0 1 0 -8.0 0M146.50 1254.00a4.0 4.0 0 1 0 8.0 0a4.0 4.0 0 1 0 -8.0 0M152.50 1243.60a4.0 4.0 0 1 0 8.0 0a4.0 4.0 0 1 0 -8.0 0M155.30 1227.80a4.0 4.0 0 1 0 8.0 0a4.0 4.0 0 1 0 -8.0 0M157.10 1212.20a4.0 4.0 0 1 0 8.0 0a4.0 4.0 0 1 0 -8.0 0M159.30 1197.60a4.0 4.0 0 1 0 8.0 0a4.0 4.0 0 1 0 -8.0 0M161.10 1179.00a4.0 4.0 0 1 0 8.0 0a4.0 4.0 0 1 0 -8.0 0M163.00 1162.70a4.0 4.0 0 1 0 8.0 0a4.0 4.0 0 1 0 -8.0 0M165.50 1146.90a4.0 4.0 0 1 0 8.0 0a4.0 4.0 0 1 0 -8.0 0M168.60 1134.00a4.0 4.0 0 1 0 8.0 0a4.0 4.0 0 1 0 -8.0 0M171.50 1121.30a4.0 4.0 0 1 0 8.0 0a4.0 4.0 0 1 0 -8.0 0M174.30 1110.40a4.0 4.0 0 1 0 8.0 0a4.0 4.0 0 1 0 -8.0 0M177.40 1102.70a4.0 4.0 0 1 0 8.0 0a4.0 4.0 0 1 0 -8.0 0M180.10 1097.30a4.0 4.0 0 1 0 8.0 0a4.0 4.0 0 1 0 -8.0 0M187.70 1094.00a4.0 4.0 0 1 0 8.0 0a4.0 4.0 0 1 0 -8.0 0M196.50 1092.70a4.0 4.0 0 1 0 8.0 0a4.0 4.0 0 1 0 -8.0 0M205.90 1093.60a4.0 4.0 0 1 0 8.0 0a4.0 4.0 0 1 0 -8.0 0M214.30 1096.00a4.0 4.0 0 1 0 8.0 0a4.0 4.0 0 1 0 -8.0 0M221.00 1098.50a4.0 4.0 0 1 0 8.0 0a4.0 4.0 0 1 0 -8.0 0M227.90 1100.90a4.0 4.0 0 1 0 8.0 0a4.0 4.0 0 1 0 -8.0 0M235.60 1105.60a4.0 4.0 0 1 0 8.0 0a4.0 4.0 0 1 0 -8.0 0M243.30 1111.30a4.0 4.0 0 1 0 8.0 0a4.0 4.0 0 1 0 -8.0 0M250.40 1116.60a4.0 4.0 0 1 0 8.0 0a4.0 4.0 0 1 0 -8.0 0M257.50 1122.70a4.0 4.0 0 1 0 8.0 0a4.0 4.0 0 1 0 -8.0 0M264.20 1127.80a4.0 4.0 0 1 0 8.0 0a4.0 4.0 0 1 0 -8.0 0M269.10 1132.70a4.0 4.0 0 1 0 8.0 0a4.0 4.0 0 1 0 -8.0 0M276.40 1138.20a4.0 4.0 0 1 0 8.0 0a4.0 4.0 0 1 0 -8.0 0M281.50 1143.10a4.0 4.0 0 1 0 8.0 0a4.0 4.0 0 1 0 -8.0 0M287.30 1147.60a4.0 4.0 0 1 0 8.0 0a4.0 4.0 0 1 0 -8.0 0M293.80 1152.40a4.0 4.0 0 1 0 8.0 0a4.0 4.0 0 1 0 -8.0 0M300.50 1157.30a4.0 4.0 0 1 0 8.0 0a4.0 4.0 0 1 0 -8.0 0M306.40 1162.20a4.0 4.0 0 1 0 8.0 0a4.0 4.0 0 1 0 -8.0 0M312.90 1166.40a4.0 4.0 0 1 0 8.0 0a4.0 4.0 0 1 0 -8.0 0M318.70 1170.90a4.0 4.0 0 1 0 8.0 0a4.0 4.0 0 1 0 -8.0 0M325.30 1176.00a4.0 4.0 0 1 0 8.0 0a4.0 4.0 0 1 0 -8.0 0M332.20 1181.10a4.0 4.0 0 1 0 8.0 0a4.0 4.0 0 1 0 -8.0 0M339.50 1184.90a4.0 4.0 0 1 0 8.0 0a4.0 4.0 0 1 0 -8.0 0M347.40 1188.70a4.0 4.0 0 1 0 8.0 0a4.0 4.0 0 1 0 -8.0 0M355.00 1192.40a4.0 4.0 0 1 0 8.0 0a4.0 4.0 0 1 0 -8.0 0M360.60 1196.90a4.0 4.0 0 1 0 8.0 0a4.0 4.0 0 1 0 -8.0 0M366.50 1201.30a4.0 4.0 0 1 0 8.0 0a4.0 4.0 0 1 0 -8.0 0M372.30 1204.90a4.0 4.0 0 1 0 8.0 0a4.0 4.0 0 1 0 -8.0 0M378.80 1209.50a4.0 4.0 0 1 0 8.0 0a4.0 4.0 0 1 0 -8.0 0M384.60 1213.60a4.0 4.0 0 1 0 8.0 0a4.0 4.0 0 1 0 -8.0 0M391.40 1217.30a4.0 4.0 0 1 0 8.0 0a4.0 4.0 0 1 0 -8.0 0M398.60 1220.60a4.0 4.0 0 1 0 8.0 0a4.0 4.0 0 1 0 -8.0 0M408.30 1221.90a4.0 4.0 0 1 0 8.0 0a4.0 4.0 0 1 0 -8.0 0M416.90 1224.20a4.0 4.0 0 1 0 8.0 0a4.0 4.0 0 1 0 -8.0 0M424.40 1224.80a4.0 4.0 0 1 0 8.0 0a4.0 4.0 0 1 0 -8.0 0M433.40 1224.80a4.0 4.0 0 1 0 8.0 0a4.0 4.0 0 1 0 -8.0 0M442.80 1224.80a4.0 4.0 0 1 0 8.0 0a4.0 4.0 0 1 0 -8.0 0M452.30 1225.90a4.0 4.0 0 1 0 8.0 0a4.0 4.0 0 1 0 -8.0 0M460.30 1225.90a4.0 4.0 0 1 0 8.0 0a4.0 4.0 0 1 0 -8.0 0M468.10 1225.90a4.0 4.0 0 1 0 8.0 0a4.0 4.0 0 1 0 -8.0 0M476.40 1225.90a4.0 4.0 0 1 0 8.0 0a4.0 4.0 0 1 0 -8.0 0M484.70 1226.20a4.0 4.0 0 1 0 8.0 0a4.0 4.0 0 1 0 -8.0 0M493.40 1226.20a4.0 4.0 0 1 0 8.0 0a4.0 4.0 0 1 0 -8.0 0M502.90 1227.40a4.0 4.0 0 1 0 8.0 0a4.0 4.0 0 1 0 -8.0 0M512.30 1227.80a4.0 4.0 0 1 0 8.0 0a4.0 4.0 0 1 0 -8.0 0"/>
<text x="138.2" y="1107.6" class="pl">(f)</text>
<circle cx="443.3" cy="1099.5" r="4.0"/>
<text x="470.30" y="1105.90" class="lg">100 μJ</text>
<rect x="122.10" y="7.05" width="420.40" height="211.67" class="fr"/>
<rect x="122.10" y="218.72" width="420.40" height="211.67" class="fr"/>
<rect x="122.10" y="430.39" width="420.40" height="211.67" class="fr"/>
<rect x="122.10" y="642.06" width="420.40" height="211.67" class="fr"/>
<rect x="122.10" y="853.73" width="420.40" height="211.67" class="fr"/>
<rect x="122.10" y="1065.40" width="420.40" height="211.67" class="fr"/>
<text x="160.32" y="1309.55" class="xl" text-anchor="middle">0</text>
<text x="274.97" y="1309.55" class="xl" text-anchor="middle">3</text>
<text x="389.63" y="1309.55" class="xl" text-anchor="middle">6</text>
<text x="504.28" y="1309.55" class="xl" text-anchor="middle">9</text>
<text x="332.3" y="1350.2" class="ax" text-anchor="middle">Delay time (ps)</text>
<text transform="translate(40.9,628.5) rotate(-90)" class="axy" text-anchor="middle">Electron density (cm<tspan class="axs" dy="-13.7">−</tspan><tspan class="axs" dy="-2">3</tspan><tspan dy="15.7">)</tspan></text>
</svg>
</body></html>
